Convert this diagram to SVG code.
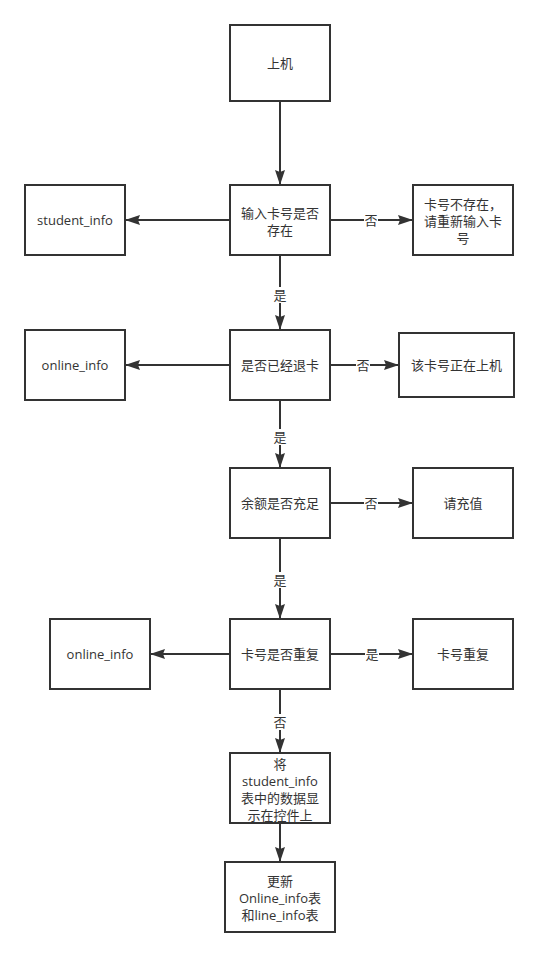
<svg xmlns="http://www.w3.org/2000/svg" width="538" height="959" viewBox="0 0 538 959">
<style>
.box{fill:#ffffff;stroke:#333333;stroke-width:2}
.edge{fill:none;stroke:#333333;stroke-width:2;marker-end:url(#arr)}
.t{font-family:"Open Sans","Noto Sans CJK SC",sans-serif;font-size:13px;fill:#333333;text-anchor:middle}
.lb{fill:#ffffff}
</style>
<defs>
<marker id="arr" markerUnits="userSpaceOnUse" markerWidth="15" markerHeight="11" viewBox="0 0 15 11" refX="15" refY="5.5" orient="auto">
<path d="M0,0.5 L15,5.5 L0,10.5 L2,5.5 z" fill="#333333"/>
</marker>
</defs>
<rect width="538" height="959" fill="#ffffff"/>
<g id="connectors">
<line class="edge" x1="280" y1="101" x2="280" y2="185"/>
<line class="edge" x1="230" y1="220" x2="125" y2="220"/>
<line class="edge" x1="330" y1="220" x2="413" y2="220"/>
<line class="edge" x1="280" y1="255" x2="280" y2="330"/>
<line class="edge" x1="230" y1="365" x2="125" y2="365"/>
<line class="edge" x1="330" y1="365" x2="399" y2="365"/>
<line class="edge" x1="280" y1="400" x2="280" y2="468"/>
<line class="edge" x1="330" y1="503" x2="413" y2="503"/>
<line class="edge" x1="280" y1="538" x2="280" y2="619"/>
<line class="edge" x1="230" y1="654" x2="150" y2="654"/>
<line class="edge" x1="330" y1="654" x2="413" y2="654"/>
<line class="edge" x1="280" y1="689" x2="280" y2="753"/>
<line class="edge" x1="280" y1="823" x2="280" y2="862"/>
<rect class="lb" x="364" y="212" width="14" height="16"/>
<text class="t" x="371" y="224.5">否</text>
<rect class="lb" x="356" y="357" width="14" height="16"/>
<text class="t" x="363" y="369.5">否</text>
<rect class="lb" x="364" y="495" width="14" height="16"/>
<text class="t" x="371" y="507.5">否</text>
<rect class="lb" x="365" y="646" width="14" height="16"/>
<text class="t" x="372" y="658.5">是</text>
<rect class="lb" x="273" y="287" width="14" height="16"/>
<text class="t" x="280" y="299.5">是</text>
<rect class="lb" x="273" y="429" width="14" height="16"/>
<text class="t" x="280" y="441.5">是</text>
<rect class="lb" x="273" y="572" width="14" height="16"/>
<text class="t" x="280" y="584.5">是</text>
<rect class="lb" x="273" y="714" width="14" height="16"/>
<text class="t" x="280" y="726.5">否</text>
</g>
<g id="n_start">
<rect class="box" x="230" y="25" width="100" height="76"/>
<text class="t" x="280" y="67.5">上机</text>
</g>
<g id="n_check_card">
<rect class="box" x="230" y="185" width="100" height="70"/>
<text class="t" x="280" y="217.5">输入卡号是否</text>
<text class="t" x="280" y="234.5">存在</text>
</g>
<g id="n_student_info">
<rect class="box" x="25" y="185" width="100" height="70"/>
<text class="t" x="75" y="224.5">student_info</text>
</g>
<g id="n_not_exist">
<rect class="box" x="413" y="185" width="100" height="70"/>
<text class="t" x="463" y="208.5">卡号不存在，</text>
<text class="t" x="463" y="225.5">请重新输入卡</text>
<text class="t" x="463" y="242.5">号</text>
</g>
<g id="n_returned">
<rect class="box" x="230" y="330" width="100" height="70"/>
<text class="t" x="280" y="369.5">是否已经退卡</text>
</g>
<g id="n_online_info1">
<rect class="box" x="25" y="330" width="100" height="70"/>
<text class="t" x="75" y="369.5">online_info</text>
</g>
<g id="n_online_now">
<rect class="box" x="399" y="333" width="115" height="64"/>
<text class="t" x="456.5" y="369.5">该卡号正在上机</text>
</g>
<g id="n_balance">
<rect class="box" x="230" y="468" width="100" height="70"/>
<text class="t" x="280" y="507.5">余额是否充足</text>
</g>
<g id="n_recharge">
<rect class="box" x="413" y="468" width="100" height="70"/>
<text class="t" x="463" y="507.5">请充值</text>
</g>
<g id="n_duplicate">
<rect class="box" x="230" y="619" width="100" height="70"/>
<text class="t" x="280" y="658.5">卡号是否重复</text>
</g>
<g id="n_online_info2">
<rect class="box" x="50" y="619" width="100" height="70"/>
<text class="t" x="100" y="658.5">online_info</text>
</g>
<g id="n_dup_msg">
<rect class="box" x="413" y="619" width="100" height="70"/>
<text class="t" x="463" y="658.5">卡号重复</text>
</g>
<g id="n_show">
<rect class="box" x="230" y="753" width="100" height="70"/>
<text class="t" x="280" y="768.5">将</text>
<text class="t" x="280" y="785.5">student_info</text>
<text class="t" x="280" y="802.5">表中的数据显</text>
<text class="t" x="280" y="819.5">示在控件上</text>
</g>
<g id="n_update">
<rect class="box" x="225" y="862" width="110" height="70"/>
<text class="t" x="280" y="886">更新</text>
<text class="t" x="280" y="903">Online_info表</text>
<text class="t" x="280" y="920">和line_info表</text>
</g>
</svg>
